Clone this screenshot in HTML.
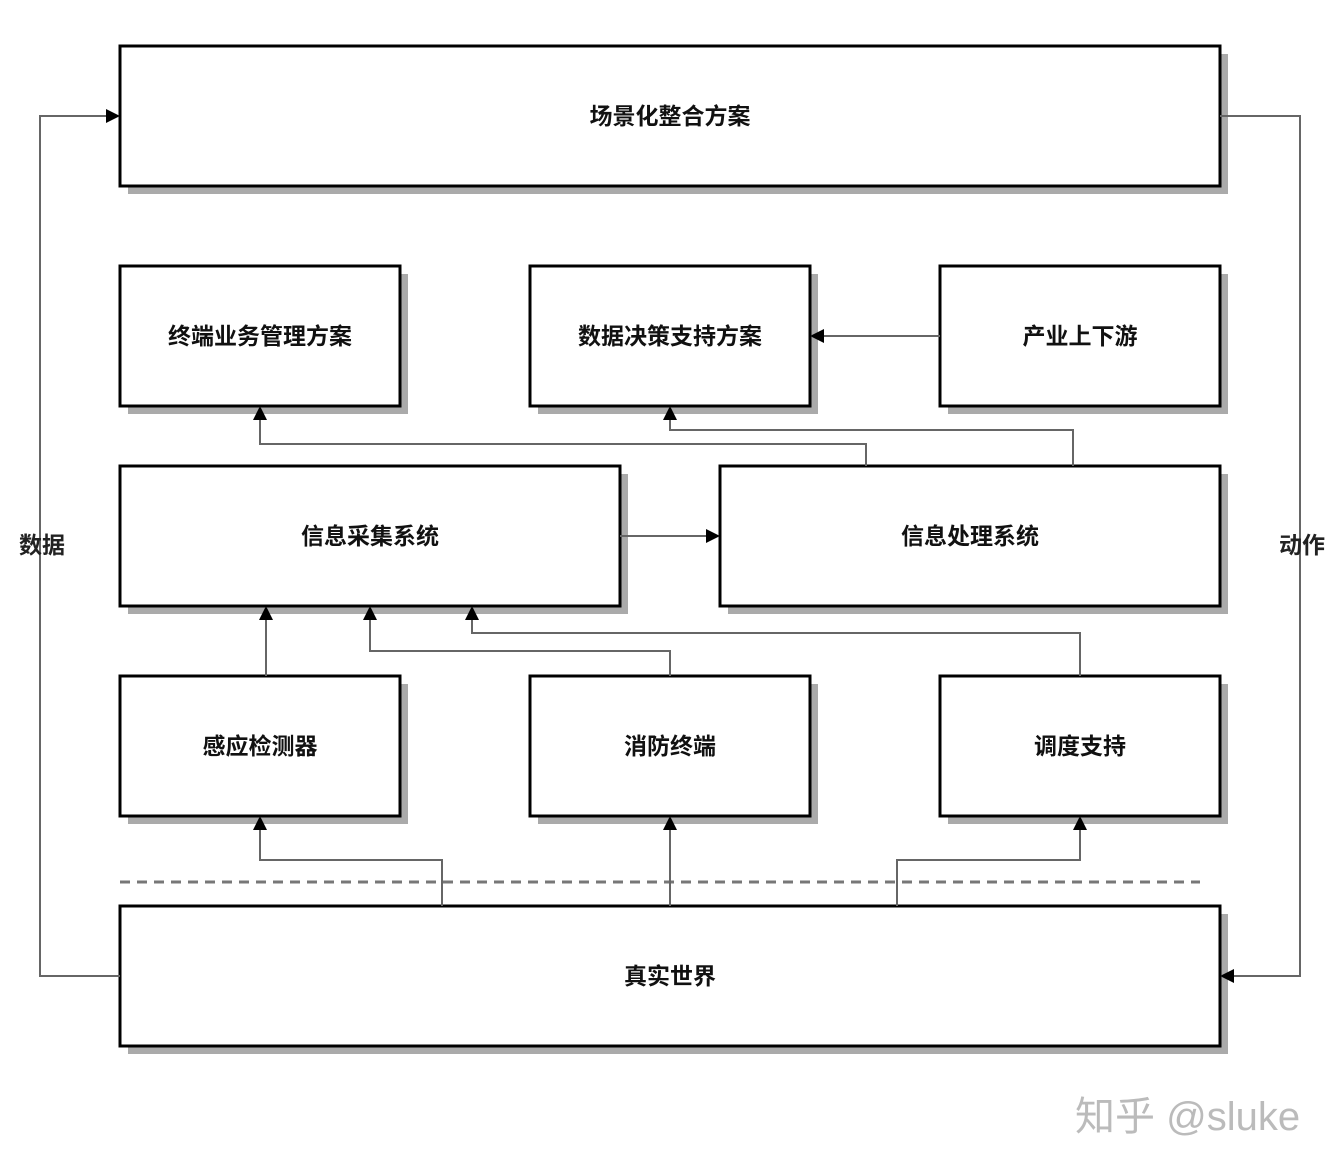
<!DOCTYPE html>
<html><head><meta charset="utf-8"><style>
html,body{margin:0;padding:0;background:#fff;}
svg text{font-family:"Liberation Sans","Noto Sans CJK SC",sans-serif;font-weight:bold;font-size:23px;fill:#111;}
</style></head><body>
<svg width="1340" height="1170" viewBox="0 0 1340 1170" xmlns="http://www.w3.org/2000/svg">
<defs>
<marker id="a" markerWidth="14" markerHeight="14" refX="13" refY="7" orient="auto" markerUnits="userSpaceOnUse">
<path d="M0,0 L14,7 L0,14 Z" fill="#000"/></marker>
</defs>
<g fill="#aaa">
<rect x="128" y="54" width="1100" height="140"/>
<rect x="128" y="274" width="280" height="140"/>
<rect x="538" y="274" width="280" height="140"/>
<rect x="948" y="274" width="280" height="140"/>
<rect x="128" y="474" width="500" height="140"/>
<rect x="728" y="474" width="500" height="140"/>
<rect x="128" y="684" width="280" height="140"/>
<rect x="538" y="684" width="280" height="140"/>
<rect x="948" y="684" width="280" height="140"/>
<rect x="128" y="914" width="1100" height="140"/>
</g>
<g fill="#fff" stroke="#000" stroke-width="3">
<rect x="120" y="46" width="1100" height="140"/>
<rect x="120" y="266" width="280" height="140"/>
<rect x="530" y="266" width="280" height="140"/>
<rect x="940" y="266" width="280" height="140"/>
<rect x="120" y="466" width="500" height="140"/>
<rect x="720" y="466" width="500" height="140"/>
<rect x="120" y="676" width="280" height="140"/>
<rect x="530" y="676" width="280" height="140"/>
<rect x="940" y="676" width="280" height="140"/>
<rect x="120" y="906" width="1100" height="140"/>
</g>
<line x1="120" y1="882" x2="1200" y2="882" stroke="#777" stroke-width="3" stroke-dasharray="10,7"/>
<g fill="none" stroke="#666" stroke-width="2" marker-end="url(#a)">
<path d="M120,976 H40 V116 H119"/>
<path d="M1220,116 H1300 V976 H1221"/>
<path d="M940,336 H811"/>
<path d="M620,536 H719"/>
<path d="M866,466 V444 H260 V407"/>
<path d="M1073,466 V430 H670 V407"/>
<path d="M266,676 V607"/>
<path d="M670,676 V651 H370 V607"/>
<path d="M1080,676 V633 H472 V607"/>
<path d="M442,906 V860 H260 V817"/>
<path d="M670,906 V817"/>
<path d="M897,906 V860 H1080 V817"/>
</g>
<g text-anchor="middle">
<text x="670" y="124">场景化整合方案</text>
<text x="260" y="344">终端业务管理方案</text>
<text x="670" y="344">数据决策支持方案</text>
<text x="1080" y="344">产业上下游</text>
<text x="370" y="544">信息采集系统</text>
<text x="970" y="544">信息处理系统</text>
<text x="260" y="754">感应检测器</text>
<text x="670" y="754">消防终端</text>
<text x="1080" y="754">调度支持</text>
<text x="670" y="984">真实世界</text>
<text x="42" y="553" style="fill:#222">数据</text>
<text x="1302" y="553" style="fill:#222">动作</text>
</g>
<text x="1075" y="1130" style="font-size:40px;font-weight:normal;fill:#bbb">知乎 @sluke</text>
</svg>
</body></html>
